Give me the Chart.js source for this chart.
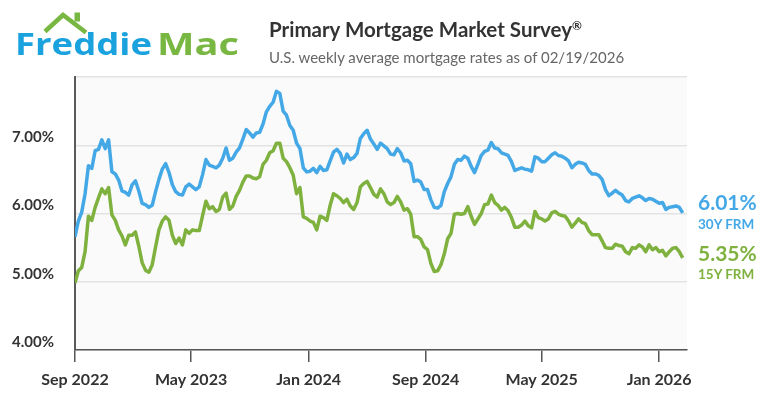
<!DOCTYPE html>
<html>
<head>
<meta charset="utf-8">
<script src="https://cdn.jsdelivr.net/npm/chart.js"></script>
<style>
  html, body { margin: 0; padding: 0; background: #fff; }
  #wrap { position: relative; width: 768px; height: 404px; overflow: hidden; }
  #chart { position: absolute; left: 0; top: 0; }
  #overlay { position: absolute; left: 0; top: 0; }
</style>
</head>
<body>
<div id="wrap">
  <canvas id="chart" width="768" height="404"></canvas>
  <svg id="overlay" width="768" height="404" xmlns="http://www.w3.org/2000/svg">
    <polyline points="45,31.5 63,15 86,32.5" stroke="#79b743" stroke-width="4.5" fill="none" stroke-linejoin="miter"/>
    <rect x="74.5" y="12.5" width="5.5" height="9" fill="#79b743"/>
    <text id="logo1" x="0" y="0" font-family="Open Sans" font-weight="700" font-size="31" fill="#1aa2df">Freddie</text>
    <text id="logo2" x="0" y="0" font-family="Open Sans" font-weight="700" font-size="31" fill="#79b743">Mac</text>
    <text id="title" x="269" y="37" font-family="Lato" font-weight="700" font-size="20.5" fill="#333"></text>
    <text id="subtitle" x="269" y="63" font-family="Lato" font-size="15" fill="#666"></text>
    <text id="v30" x="698" y="210" font-family="Lato" font-weight="700" font-size="21" fill="#45a8e6"></text>
    <text id="n30" x="698" y="228.5" font-family="Lato" font-weight="700" font-size="13.5" fill="#45a8e6"></text>
    <text id="v15" x="698" y="260.5" font-family="Lato" font-weight="700" font-size="21" fill="#7fb13f"></text>
    <text id="n15" x="698" y="279" font-family="Lato" font-weight="700" font-size="13.5" fill="#7fb13f"></text>
  </svg>
</div>
<script>
// weekly PMMS releases, first one 09/01/2022, last one 02/19/2026
const firstWeek = "2022-09-01";
const asOf = "02/19/2026";

const frm30 = [
  5.66, 5.89, 6.02, 6.29, 6.70, 6.66, 6.92, 6.94, 7.08, 6.95, 7.08, 6.61, 6.58, 6.49, 6.33, 6.31, 6.27, 6.42,
  6.48, 6.33, 6.15, 6.13, 6.09, 6.12, 6.32, 6.50, 6.65, 6.73, 6.60, 6.42, 6.32, 6.28, 6.27, 6.39, 6.43,
  6.39, 6.35, 6.39, 6.57, 6.79, 6.71, 6.69, 6.67, 6.71, 6.81, 6.96, 6.78, 6.81, 6.90, 6.96, 7.09, 7.23, 7.18,
  7.12, 7.18, 7.19, 7.31, 7.49, 7.57, 7.63, 7.79, 7.76, 7.50, 7.44, 7.29, 7.22, 7.03, 6.95, 6.67, 6.61,
  6.62, 6.66, 6.60, 6.69, 6.63, 6.64, 6.77, 6.90, 6.94, 6.88, 6.74, 6.87, 6.79, 6.82, 6.88, 7.10, 7.17,
  7.22, 7.09, 7.02, 6.94, 7.03, 6.99, 6.95, 6.87, 6.86, 6.95, 6.89, 6.77, 6.78,
  6.73, 6.47, 6.49, 6.46, 6.35, 6.35, 6.20, 6.09, 6.08, 6.12, 6.32, 6.44, 6.54, 6.72,
  6.79, 6.78, 6.84, 6.81, 6.69, 6.60, 6.72, 6.85,
  6.91, 6.93, 7.04, 6.96, 6.95, 6.89, 6.87, 6.85, 6.76, 6.63, 6.65, 6.67, 6.65, 6.64, 6.62, 6.83, 6.81,
  6.76, 6.76, 6.81, 6.86, 6.89, 6.85, 6.84, 6.81, 6.77, 6.67, 6.72, 6.75, 6.74, 6.72,
  6.63, 6.58, 6.58, 6.56, 6.50, 6.35, 6.26, 6.30, 6.34, 6.30, 6.27, 6.19, 6.17,
  6.22, 6.24, 6.26, 6.23, 6.19, 6.22, 6.21, 6.18, 6.15,
  6.16, 6.06, 6.09, 6.10, 6.11, 6.09, 6.01
];

const frm15 = [
  4.98, 5.16, 5.21, 5.44, 5.96, 5.90, 6.09, 6.23, 6.36, 6.29, 6.38, 5.98, 5.90, 5.76, 5.67, 5.54, 5.68, 5.68,
  5.73, 5.52, 5.28, 5.17, 5.14, 5.25, 5.51, 5.76, 5.89, 5.95, 5.90, 5.68, 5.56, 5.64, 5.54, 5.76, 5.71,
  5.76, 5.75, 5.75, 5.97, 6.18, 6.07, 6.10, 6.03, 6.06, 6.24, 6.30, 6.06, 6.11, 6.25, 6.34, 6.46, 6.55, 6.55,
  6.52, 6.51, 6.54, 6.72, 6.78, 6.89, 6.92, 7.03, 7.03, 6.81, 6.76, 6.67, 6.56, 6.29, 6.38, 5.95, 5.93,
  5.89, 5.87, 5.76, 5.96, 5.94, 5.90, 6.12, 6.29, 6.26, 6.22, 6.16, 6.21, 6.11, 6.06, 6.16, 6.39, 6.44,
  6.47, 6.38, 6.28, 6.24, 6.36, 6.29, 6.17, 6.13, 6.16, 6.25, 6.17, 6.05, 6.07,
  5.99, 5.66, 5.66, 5.62, 5.51, 5.47, 5.27, 5.15, 5.16, 5.25, 5.41, 5.63, 5.71, 5.99,
  6.00, 5.99, 6.00, 6.10, 5.96, 5.84, 5.92, 6.00,
  6.13, 6.14, 6.27, 6.16, 6.12, 6.05, 6.09, 6.04, 5.94, 5.80, 5.80, 5.83, 5.89, 5.82, 5.79, 6.03, 5.94,
  5.92, 5.89, 5.92, 6.01, 6.03, 5.99, 5.97, 5.96, 5.89, 5.80, 5.86, 5.92, 5.87, 5.85,
  5.75, 5.69, 5.69, 5.69, 5.60, 5.50, 5.49, 5.49, 5.55, 5.53, 5.52, 5.44, 5.41,
  5.50, 5.49, 5.54, 5.51, 5.44, 5.54, 5.47, 5.50, 5.44,
  5.46, 5.38, 5.44, 5.49, 5.50, 5.44, 5.35
];

const tickDates = ["2022-09-01", "2023-05-01", "2024-01-01", "2024-09-01", "2025-05-01", "2026-01-01"];
const tickLabels = ["Sep 2022", "May 2023", "Jan 2024", "Sep 2024", "May 2025", "Jan 2026"];
const yTicks = [4, 5, 6, 7, 8];

const DAY = 86400000;
const start = Date.parse(firstWeek);
const dayOf = d => Math.round((Date.parse(d) - start) / DAY);
const tickDays = tickDates.map(dayOf);

const pts = arr => arr.map((v, i) => ({ x: i * 7, y: v }));

// header text
const title = document.getElementById("title");
title.textContent = "Primary Mortgage Market Survey";
const reg = document.createElementNS("http://www.w3.org/2000/svg", "tspan");
reg.setAttribute("font-size", "12");
reg.setAttribute("dy", "-7");
reg.textContent = "\u00AE";
title.appendChild(reg);
document.getElementById("subtitle").textContent = "U.S. weekly average mortgage rates as of " + asOf;
document.getElementById("v30").textContent = frm30[frm30.length - 1].toFixed(2) + "%";
document.getElementById("n30").textContent = "30Y FRM";
document.getElementById("v15").textContent = frm15[frm15.length - 1].toFixed(2) + "%";
document.getElementById("n15").textContent = "15Y FRM";

// logo words stretched to the wide logo lettering
function fitWord(id, left, baseline, width) {
  const el = document.getElementById(id);
  const w = el.getComputedTextLength();
  el.setAttribute("transform", `translate(${left},${baseline}) scale(${width / w},1)`);
}
fitWord("logo1", 15, 55, 137);
fitWord("logo2", 157, 55, 82);

const plotBg = {
  id: "plotBg",
  beforeDraw(c) {
    const a = c.chartArea, ctx = c.ctx;
    ctx.save();
    ctx.fillStyle = "#fafafa";
    ctx.fillRect(a.left, a.top, a.right - a.left, a.bottom - a.top);
    ctx.restore();
  }
};

new Chart(document.getElementById("chart"), {
  type: "line",
  data: {
    datasets: [
      {
        label: "30Y FRM",
        data: pts(frm30),
        borderColor: "#45a8e6",
        borderWidth: 3.5,
        pointRadius: 0,
        borderJoinStyle: "round",
        tension: 0
      },
      {
        label: "15Y FRM",
        data: pts(frm15),
        borderColor: "#7fb13f",
        borderWidth: 3.5,
        pointRadius: 0,
        borderJoinStyle: "round",
        tension: 0
      }
    ]
  },
  options: {
    responsive: false,
    animation: false,
    devicePixelRatio: 1,
    layout: { padding: { top: 77, right: 81, left: 0, bottom: 0 } },
    plugins: { legend: { display: false }, tooltip: { enabled: false } },
    scales: {
      x: {
        type: "linear",
        min: 0,
        max: 1276,
        afterBuildTicks: s => { s.ticks = tickDays.map(v => ({ value: v })); },
        afterFit: s => { s.height = 54; },
        ticks: {
          autoSkip: false,
          maxRotation: 0,
          padding: 8,
          color: "#333",
          font: { family: "Lato", weight: "bold", size: 16 },
          callback: v => tickLabels[tickDays.indexOf(v)]
        },
        grid: { drawOnChartArea: false, drawTicks: true, tickLength: 12, color: "#555", lineWidth: 1.5 },
        border: { display: true, color: "#555", width: 1.5 }
      },
      y: {
        min: 4,
        max: 8,
        afterBuildTicks: s => { s.ticks = yTicks.map(v => ({ value: v })); },
        afterFit: s => { s.width = 75; },
        ticks: {
          padding: 21,
          labelOffset: -8,
          color: "#333",
          font: { family: "Lato", weight: "bold", size: 15 },
          callback: v => v === 8 ? "" : v.toFixed(2) + "%"
        },
        grid: { color: "#e3e3e3", lineWidth: 1.5, drawTicks: false },
        border: { display: true, color: "#5a5a5a", width: 2 }
      }
    }
  },
  plugins: [plotBg]
});
</script>
</body>
</html>
